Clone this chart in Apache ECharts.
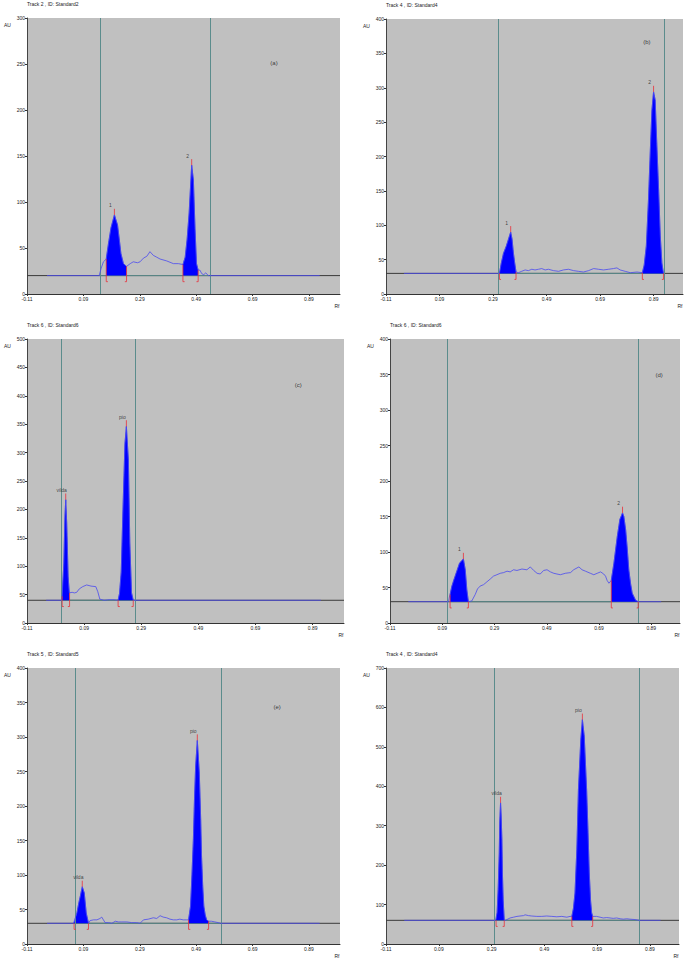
<!DOCTYPE html>
<html><head><meta charset="utf-8">
<script src="https://cdn.jsdelivr.net/npm/echarts@6/dist/echarts.min.js"></script>
<style>html,body{margin:0;padding:0;background:#fff}#c{width:685px;height:960px}</style>
</head><body><div id="c"></div><script>
// ---- shared axis values ----
const xTicks = [-0.11, 0.09, 0.29, 0.49, 0.69, 0.89];
const xMin = -0.11, xMax = 1.0;

// ---- panel (a) ----
const titleA = 'Track 2 , ID: Standard2';
const rfA = [-0.039,0.146,0.153,0.161,0.171,0.179,0.188,0.200,0.211,0.217,0.223,0.232,0.243,0.256,0.267,0.282,0.291,0.303,0.315,0.326,0.338,0.350,0.362,0.385,0.409,0.427,0.443,0.451,0.458,0.465,0.474,0.480,0.486,0.491,0.497,0.503,0.510,0.517,0.524,0.533,0.928];
const auA = [20,20,28,35,38,55,72,86,75,60,44,33,30,33,35,34,35,39,41,46,42,40,38,36,33,33,32,40,60,88,140,124,70,33,26,26,22,21,23,20,20];
const peaksA = [[0.171,0.200,0.243],[0.443,0.474,0.497]];
const namesA = ['1','2'];
const guidesA = [0.146, 0.536];
const baseA = 20, maxA = 300, stepA = 50;
const tagA = [0.766, 251, '(a)'];

// ---- panel (b) ----
const titleB = 'Track 4 , ID: Standard4';
const rfB = [-0.043,0.311,0.314,0.321,0.329,0.339,0.348,0.356,0.361,0.366,0.371,0.376,0.385,0.397,0.410,0.422,0.435,0.447,0.460,0.472,0.485,0.497,0.516,0.535,0.553,0.572,0.591,0.609,0.628,0.647,0.666,0.684,0.703,0.722,0.740,0.753,0.765,0.784,0.803,0.828,0.848,0.855,0.863,0.871,0.878,0.884,0.890,0.896,0.902,0.909,0.915,0.921,0.927];
const auB = [30,30,30,45,59,69,80,90,80,60,45,32,31,33,35,34,36,35,36,37,35,36,34,33,35,36,34,33,32,34,37,36,35,36,37,38,35,33,31,32,31,42,70,137,210,268,294,282,219,150,85,45,30];
const peaksB = [[0.314,0.356,0.376],[0.848,0.890,0.927]];
const namesB = ['1','2'];
const guidesB = [0.311, 0.927];
const baseB = 30, maxB = 400, stepB = 50;
const tagB = [0.865, 366, '(b)'];

// ---- panel (c) ----
const titleC = 'Track 6 , ID: Standard6';
const rfC = [-0.043,0.0105,0.013,0.019,0.023,0.0256,0.029,0.034,0.038,0.039,0.048,0.056,0.064,0.073,0.085,0.099,0.114,0.131,0.138,0.145,0.160,0.177,0.195,0.209,0.214,0.220,0.226,0.233,0.238,0.241,0.245,0.250,0.256,0.262,0.919];
const auC = [40,40,47,105,188,217,176,82,53,53,54,53,54,60,64,67,65,64,55,42,40,41,41,40,52,90,199,316,346,320,287,141,53,40,40];
const peaksC = [[0.013,0.0256,0.039],[0.209,0.238,0.262]];
const namesC = ['vilda','pio'];
const guidesC = [0.0105, 0.268];
const baseC = 40, maxC = 500, stepC = 50;
const tagC = [0.84, 419, '(c)'];

// ---- panel (d) ----
const titleD = 'Track 6 , ID: Standard6';
const rfD = [-0.040,0.114,0.118,0.120,0.127,0.133,0.143,0.156,0.165,0.171,0.178,0.184,0.190,0.203,0.216,0.225,0.235,0.248,0.261,0.274,0.286,0.299,0.312,0.325,0.338,0.350,0.363,0.376,0.395,0.414,0.427,0.440,0.453,0.465,0.478,0.491,0.504,0.517,0.529,0.542,0.561,0.581,0.593,0.613,0.625,0.638,0.657,0.670,0.683,0.696,0.708,0.715,0.721,0.728,0.737,0.747,0.760,0.770,0.780,0.785,0.792,0.798,0.804,0.811,0.817,0.830,0.840,0.928];
const auD = [30,30,38,40,52,59,70,84,88,90,75,47,30,31,40,48,52,54,58,62,66,68,70,71,73,72,75,74,76,75,79,74,70,69,74,75,72,70,69,68,70,71,75,79,75,73,70,68,70,72,69,66,60,56,60,84,122,146,155,150,131,105,75,55,42,32,30,30];
const peaksD = [[0.120,0.171,0.190],[0.737,0.780,0.840]];
const namesD = ['1','2'];
const guidesD = [0.114, 0.843];
const baseD = 30, maxD = 400, stepD = 50;
const tagD = [0.92, 349, '(d)'];

// ---- panel (e) ----
const titleE = 'Track 5 , ID: Standard5';
const rfE = [-0.039,0.055,0.057,0.067,0.074,0.079,0.086,0.093,0.100,0.108,0.114,0.126,0.138,0.149,0.155,0.161,0.167,0.179,0.191,0.203,0.214,0.226,0.244,0.261,0.279,0.291,0.303,0.320,0.338,0.350,0.362,0.373,0.385,0.397,0.409,0.421,0.432,0.444,0.456,0.463,0.470,0.475,0.480,0.484,0.488,0.494,0.497,0.501,0.506,0.509,0.513,0.517,0.522,0.527,0.534,0.544,0.556,0.568,0.576,0.928];
const auE = [30,30,30,45,60,69,83,74,45,30,34,35,35,37,39,35,31,31,30,33,32,32,32,31,31,30,35,36,38,37,41,39,38,36,35,35,36,35,35,35,55,100,151,210,257,295,275,248,180,127,85,55,42,35,33,33,32,31,30,30];
const peaksE = [[0.057,0.086,0.108],[0.463,0.494,0.534]];
const namesE = ['vilda','pio'];
const guidesE = [0.055, 0.576];
const baseE = 30, maxE = 400, stepE = 50;
const tagE = [0.777, 343, '(e)'];

// ---- panel (f) ----
const titleF = 'Track 4 , ID: Standard4';
const rfF = [-0.041,0.305,0.307,0.311,0.315,0.319,0.321,0.324,0.326,0.329,0.331,0.334,0.338,0.343,0.348,0.360,0.373,0.386,0.398,0.411,0.417,0.430,0.442,0.461,0.480,0.499,0.518,0.537,0.556,0.575,0.587,0.594,0.600,0.606,0.613,0.619,0.628,0.634,0.641,0.650,0.655,0.660,0.665,0.669,0.673,0.688,0.701,0.713,0.726,0.739,0.751,0.764,0.777,0.789,0.802,0.814,0.833,0.850,0.930];
const auF = [60,60,60,80,140,230,310,358,330,265,180,110,60,60,62,66,68,70,71,72,74,72,71,70,70,71,70,69,70,68,70,70,90,129,240,391,518,569,527,391,290,180,110,79,70,70,68,66,67,66,65,66,64,63,64,63,62,60,60];
const peaksF = [[0.307,0.324,0.338],[0.594,0.634,0.673]];
const namesF = ['vilda','pio'];
const guidesF = [0.305, 0.850];
const baseF = 60, maxF = 700, stepF = 100;
const tagF = null;

// ---- assemble ----
const panels = [
  {title:titleA, rf:rfA, au:auA, peaks:peaksA, names:namesA, guides:guidesA, base:baseA, max:maxA, step:stepA, tag:tagA},
  {title:titleB, rf:rfB, au:auB, peaks:peaksB, names:namesB, guides:guidesB, base:baseB, max:maxB, step:stepB, tag:tagB},
  {title:titleC, rf:rfC, au:auC, peaks:peaksC, names:namesC, guides:guidesC, base:baseC, max:maxC, step:stepC, tag:tagC},
  {title:titleD, rf:rfD, au:auD, peaks:peaksD, names:namesD, guides:guidesD, base:baseD, max:maxD, step:stepD, tag:tagD},
  {title:titleE, rf:rfE, au:auE, peaks:peaksE, names:namesE, guides:guidesE, base:baseE, max:maxE, step:stepE, tag:tagE},
  {title:titleF, rf:rfF, au:auF, peaks:peaksF, names:namesF, guides:guidesF, base:baseF, max:maxF, step:stepF, tag:tagF}
];
const layout = [
  {left:27, top:18, width:313, height:276},
  {left:386, top:19, width:297, height:275},
  {left:27, top:339, width:317, height:284},
  {left:390, top:339, width:290, height:284},
  {left:27, top:668, width:313, height:276},
  {left:386, top:668, width:293, height:276}
];
const FONT = '"Liberation Sans", Arial, sans-serif';
const TXT = '#222';
const grids = [], xAxes = [], yAxes = [], series = [], graphics = [];

panels.forEach((p, i) => {
  const L = layout[i];
  grids.push({left:L.left, top:L.top, width:L.width, height:L.height, show:true, backgroundColor:'#c0c0c0', borderWidth:0});
  xAxes.push({type:'value', gridIndex:i, min:xMin, max:xMax,
    axisLine:{show:true, onZero:false, lineStyle:{color:'#333', width:1}},
    axisTick:{show:true, customValues:xTicks, length:2, lineStyle:{color:'#333'}},
    axisLabel:{customValues:xTicks, formatter:v => v.toFixed(2), fontSize:5, color:TXT, margin:2, fontFamily:FONT},
    splitLine:{show:false}});
  yAxes.push({type:'value', gridIndex:i, min:0, max:p.max, interval:p.step,
    axisLine:{show:true, onZero:false, lineStyle:{color:'#444', width:1}},
    axisTick:{show:true, length:2, lineStyle:{color:'#333'}},
    axisLabel:{fontSize:5, color:TXT, margin:2, fontFamily:FONT},
    splitLine:{show:false}});
  const ax = {xAxisIndex:i, yAxisIndex:i, symbol:'none', silent:true, animation:false};
  const d = p.max * 0.022, dx = 0.006;
  const val = x => p.au[p.rf.findIndex(r => Math.abs(r - x) < 1e-9)];
  // full-width baseline with guide lines
  series.push(Object.assign({type:'line', data:[[xMin, p.base],[xMax, p.base]], z:2,
    lineStyle:{color:'#3a3a3a', width:1},
    markLine:{silent:true, symbol:'none', label:{show:false}, animation:false,
      lineStyle:{color:'#5b8c8c', width:1, type:'solid'}, data:p.guides.map(g => ({xAxis:g}))}}, ax));
  // baseline segment inside the integration window
  series.push(Object.assign({type:'line', data:[[p.guides[0], p.base],[p.guides[1], p.base]], z:3,
    lineStyle:{color:'#5b8c8c', width:1}}, ax));
  // filled peaks
  p.peaks.forEach(pk => {
    const pts = [];
    p.rf.forEach((r, k) => { if (r >= pk[0] - 1e-9 && r <= pk[2] + 1e-9) pts.push([r, p.au[k]]); });
    series.push(Object.assign({type:'line', data:pts, z:4, lineStyle:{width:0.5, color:'#0000ff'},
      areaStyle:{color:'#0000ff', opacity:1, origin:p.base}}, ax));
  });
  // trace
  series.push(Object.assign({type:'line', data:p.rf.map((r, k) => [r, p.au[k]]), z:5,
    lineStyle:{color:'#4a4af0', width:0.8}}, ax));
  // red markers + labels
  p.peaks.forEach((pk, j) => {
    const red = {color:'#e8303a', width:0.8};
    series.push(Object.assign({type:'line', z:6, lineStyle:red,
      data:[[pk[0], val(pk[0])],[pk[0], p.base - d],[pk[0] + dx, p.base - d]]}, ax));
    series.push(Object.assign({type:'line', z:6, lineStyle:red,
      data:[[pk[2], val(pk[2])],[pk[2], p.base - d],[pk[2] - dx, p.base - d]]}, ax));
    series.push(Object.assign({type:'line', z:6, lineStyle:red,
      data:[[pk[1], val(pk[1])],[pk[1], val(pk[1]) + d]]}, ax));
    series.push({type:'scatter', xAxisIndex:i, yAxisIndex:i, silent:true, animation:false, symbolSize:0, z:7,
      data:[[pk[1], val(pk[1]) + d]],
      label:{show:true, position:'top', distance:1, offset:[-4, 0], formatter:p.names[j], fontSize:5, color:TXT, fontFamily:FONT}});
  });
  if (p.tag) {
    series.push({type:'scatter', xAxisIndex:i, yAxisIndex:i, silent:true, animation:false, symbolSize:0, z:7,
      data:[[p.tag[0], p.tag[1]]],
      label:{show:true, position:'inside', formatter:p.tag[2], fontSize:6, color:'#111', fontFamily:FONT}});
  }
  // texts: title, AU, Rf
  const txt = (x, y, t, align) => ({type:'text', x:x, y:y, silent:true,
    style:{text:t, fontSize:5, fontFamily:FONT, fill:TXT, align:align, textAlign:align, verticalAlign:'middle', textVerticalAlign:'middle'}});
  graphics.push(txt(L.left, L.top - 14.5, p.title, 'left'));
  graphics.push(txt(L.left - 23, L.top + 7, 'AU', 'left'));
  graphics.push(txt(L.left + L.width - 3, L.top + L.height + 11.5, 'Rf', 'center'));
});

const chart = echarts.init(document.getElementById('c'), null, {renderer:'svg'});
chart.setOption({animation:false, backgroundColor:'#ffffff', grid:grids, xAxis:xAxes, yAxis:yAxes, series:series, graphic:{elements:graphics}});
</script></body></html>
